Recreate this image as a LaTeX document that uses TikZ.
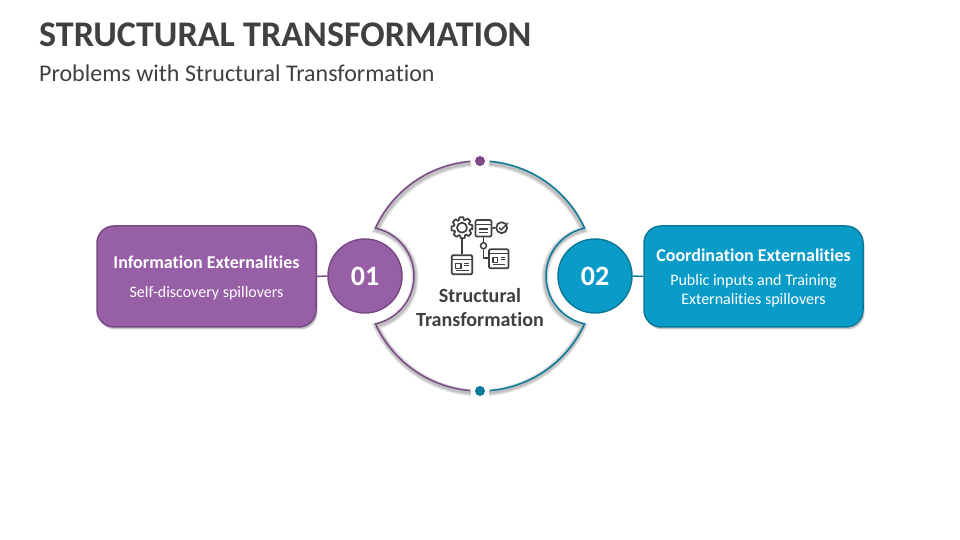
\documentclass[tikz,border=0pt]{standalone}
\usepackage{fontspec}
\setmainfont[Ligatures=CommonOff]{Carlito}
\usetikzlibrary{shadows,calc}
\definecolor{ink}{HTML}{404040}
\definecolor{pfill}{HTML}{9760A6}
\definecolor{pline}{HTML}{7A4A86}
\definecolor{tfill}{HTML}{0A9CC9}
\definecolor{tline}{HTML}{0B7A99}
\tikzset{
  x=1pt,y=1pt,
  card/.style={rounded corners=17pt,minimum width=219pt,minimum height=101pt,inner sep=0pt,line width=1.5pt,
    drop shadow={opacity=.42,shadow xshift=1.5pt,shadow yshift=-2.5pt}},
  numdisc/.style={circle,minimum size=74pt,inner sep=0pt,line width=1.5pt,text=white,font=\fontsize{28}{28}\selectfont\bfseries},
  headtext/.style={anchor=base,inner sep=0pt,text=white,font=\fontsize{18}{20}\selectfont\bfseries},
  subtext/.style={anchor=base,inner sep=0pt,text=white,font=\fontsize{16}{19}\selectfont},
  centretext/.style={anchor=base,inner sep=0pt,text=ink,font=\fontsize{20.1}{24}\selectfont\bfseries},
  dot/.style={circle,minimum size=10pt,inner sep=0pt},
  ringline/.style={line width=1.5pt},
  ringshadow/.style={line width=#1,draw=black,draw opacity=.09},
  icon/.style={draw=ink,line width=1.7pt,line join=round},
  appwin/.style={icon,rounded corners=1.2pt,fill=white,minimum width=#1,minimum height=19pt,inner sep=0pt},
}
\newcommand{\leftring}{(480,264)++(95:115) arc[start angle=95,end angle=155.4,radius=115] arc[start angle=77.7,end angle=-77.7,radius=49] arc[start angle=204.6,end angle=265,radius=115]}
\newcommand{\rightring}{(480,264)++(85:115) arc[start angle=85,end angle=24.6,radius=115] arc[start angle=102.3,end angle=257.7,radius=49] arc[start angle=-24.6,end angle=-85,radius=115]}
\newcommand{\winbody}[3]{% centre x, y, half-width
  \draw[icon,line width=1.2pt] (#1-#3+4,#2+1.5) rectangle (#1-1,#2-3.5);
  \draw[icon,line width=1.2pt] (#1+2,#2+1.5) -- (#1+#3-3,#2+1.5) (#1+2,#2-1) -- (#1+#3-3,#2-1) (#1-#3+4,#2-6) -- (#1+#3-3,#2-6);
  \draw[icon,line width=1.2pt] (#1-#3,#2+5.5) -- (#1+#3,#2+5.5);
}
\begin{document}
\begin{tikzpicture}
\useasboundingbox (0,0) rectangle (960,540);
\fill[white] (0,0) rectangle (960,540);
% titles
\node[anchor=west,inner sep=0pt,text=ink,font=\fontsize{36.1}{36}\selectfont\bfseries] (title) at (39,505.5) {STRUCTURAL TRANSFORMATION};
\node[anchor=west,inner sep=0pt,text=ink,font=\fontsize{24}{26}\selectfont] (subtitle) at (39,466.5) {Problems with Structural Transformation};
% ring shadows
\foreach \w in {7pt,5pt,3pt}{
  \draw[ringshadow=\w,shift={(1,-2)}] \leftring;
  \draw[ringshadow=\w,shift={(-1,-2)}] \rightring;
}
\draw[ringline,draw=pline] \leftring;
\draw[ringline,draw=tline] \rightring;
\node[dot,fill=pline] (dottop) at (480,379) {};
\node[dot,fill=tline] (dotbot) at (480,149) {};
% cards and discs
\node[card,fill=pfill,draw=pline] (cardL) at (206.5,263.5) {};
\node[card,fill=tfill,draw=tline] (cardR) at (753.5,263.5) {};
\node[headtext] (hL) at (206.5,271) {Information Externalities};
\node[subtext] (sL) at (206.5,242) {Self-discovery spillovers};
\node[headtext] (hR) at (753.5,278) {Coordination Externalities};
\node[subtext] (sR1) at (753.5,254) {Public inputs and Training};
\node[subtext] (sR2) at (753.5,235) {Externalities spillovers};
\node[numdisc,fill=pfill,draw=pline] (disc1) at (365,264) {01};
\node[numdisc,fill=tfill,draw=tline] (disc2) at (595,264) {02};
\draw[line width=1.5pt,draw=pline] (cardL.east) -- (disc1.west);
\draw[line width=1.5pt,draw=tline] (cardR.west) -- (disc2.east);
% centre label
\node[centretext] (centre1) at (480,237) {Structural};
\node[centretext] (centre2) at (480,213.5) {Transformation};
% icon
\begin{scope}[shift={(462,312.3)}]
  \draw[icon] (0:10)
   \foreach \a in {0,45,...,315}{
     -- (\a+7:10.6) -- (\a+14:10.6) -- (\a+24:8) -- (\a+31:8) -- (\a+38:10.6)
   } -- cycle;
  \draw[icon] (0,0) circle (5);
\end{scope}
\coordinate (gearbot) at (462,301.5);
\node[appwin=16pt,minimum height=16.5pt] (win1) at (483.5,311.7) {};
\node[appwin=19.5pt] (win2) at (498.7,281.2) {};
\node[appwin=20.6pt] (win3) at (462,275.3) {};
\draw[icon] (gearbot) -- (win3.north);
\node[circle,draw=ink,line width=1.7pt,minimum size=11pt,inner sep=0pt] (check) at (501.7,312.3) {};
\draw[icon] (win1.east) -- (check.west);
\draw[icon,line width=1.3pt] (499,312.5) -- (501.2,310) -- (508,317);
\node[circle,draw=ink,line width=1.5pt,minimum size=6pt,inner sep=0pt,fill=white] (joint) at (483.5,294.3) {};
\draw[icon] (win1.south) -- (joint.north);
\draw[icon] (joint.south) -- (483.5,281.7) -- (win2.west |- 0,281.7);
\winbody{498.7}{281.2}{9.75}
\winbody{462}{275.3}{10.3}
\draw[icon,line width=1.2pt] (475.5,315.5) -- (491.5,315.5);
\draw[icon,line width=1.2pt] (479,311) -- (488,311) (479,307.5) -- (488,307.5);
\end{tikzpicture}
\end{document}
